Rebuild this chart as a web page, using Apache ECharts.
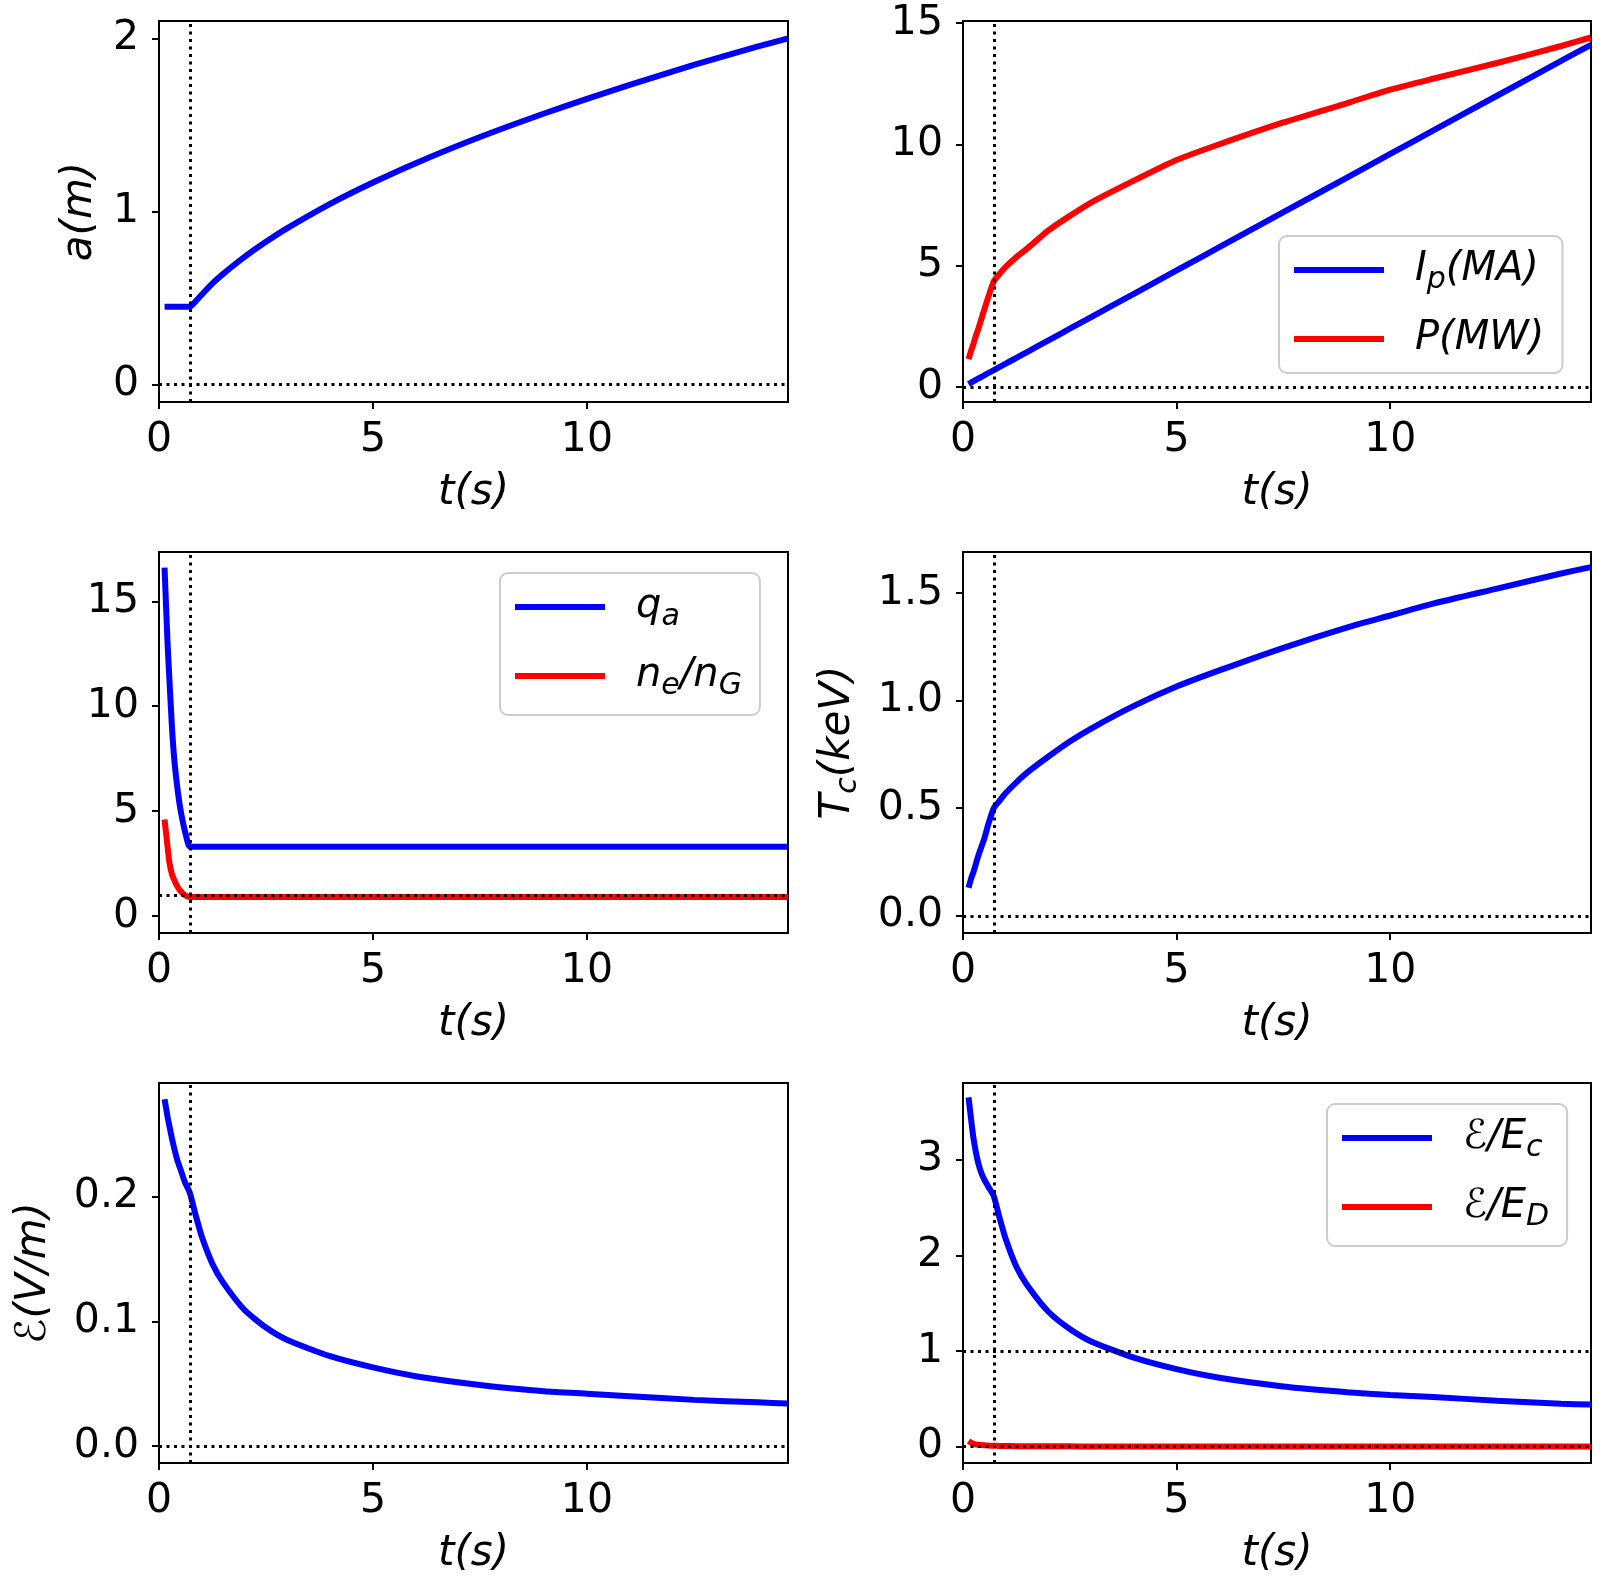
<!DOCTYPE html>
<html>
<head>
<meta charset="utf-8">
<script src="https://cdn.jsdelivr.net/npm/echarts@6/dist/echarts.min.js"></script>
<style>
html, body { margin: 0; padding: 0; background: #fff; }
#chart { width: 1600px; height: 1579px; }
</style>
</head>
<body>
<div id="chart"></div>
<script>
// time samples (s)
const t = [0.13, 0.2, 0.24, 0.3, 0.36, 0.43, 0.5, 0.6, 0.72, 0.85, 1, 1.25, 1.5, 2, 2.5, 3, 4, 5, 6, 7.5, 9, 10, 11, 12.5, 14, 14.7]
const tSwitch = 0.72

// series, one value per t
const minorRadius = [0.45, 0.45, 0.45, 0.45, 0.45, 0.45, 0.45, 0.45, 0.45, 0.48, 0.52, 0.585, 0.64, 0.738, 0.825, 0.904, 1.044, 1.167, 1.279, 1.43, 1.566, 1.65, 1.731, 1.846, 1.953, 2.0]
const plasmaCurrent = [0.12, 0.19, 0.23, 0.29, 0.35, 0.41, 0.48, 0.58, 0.69, 0.82, 0.96, 1.2, 1.44, 1.92, 2.4, 2.88, 3.84, 4.8, 5.76, 7.2, 8.64, 9.6, 10.56, 12.0, 13.44, 14.1]
const power = [1.15, 1.55, 1.75, 2.1, 2.4, 2.8, 3.2, 3.75, 4.35, 4.65, 4.95, 5.35, 5.7, 6.45, 7.05, 7.6, 8.5, 9.35, 10.0, 10.9, 11.7, 12.25, 12.7, 13.35, 14.05, 14.4]
const safetyFactor = [16.6, 13.0, 11.4, 9.1, 7.4, 6.1, 5.1, 4.1, 3.3, 3.3, 3.3, 3.3, 3.3, 3.3, 3.3, 3.3, 3.3, 3.3, 3.3, 3.3, 3.3, 3.3, 3.3, 3.3, 3.3, 3.3]
const greenwald = [4.6, 3.3, 2.6, 2.0, 1.7, 1.4, 1.2, 1.0, 0.9, 0.9, 0.9, 0.9, 0.9, 0.9, 0.9, 0.9, 0.9, 0.9, 0.9, 0.9, 0.9, 0.9, 0.9, 0.9, 0.9, 0.9]
const coreTemp = [0.13, 0.18, 0.2, 0.24, 0.28, 0.32, 0.36, 0.43, 0.5, 0.533, 0.57, 0.62, 0.665, 0.74, 0.81, 0.87, 0.975, 1.065, 1.14, 1.245, 1.34, 1.395, 1.45, 1.52, 1.59, 1.62]
const efield = [0.278, 0.264, 0.257, 0.247, 0.238, 0.229, 0.222, 0.212, 0.203, 0.186, 0.168, 0.146, 0.131, 0.109, 0.095, 0.085, 0.072, 0.063, 0.056, 0.049, 0.044, 0.042, 0.04, 0.037, 0.035, 0.034]
const eOverEc = [3.65, 3.38, 3.24, 3.08, 2.96, 2.86, 2.79, 2.71, 2.62, 2.4, 2.17, 1.88, 1.69, 1.41, 1.23, 1.1, 0.93, 0.81, 0.72, 0.63, 0.57, 0.54, 0.52, 0.48, 0.45, 0.44]
const eOverEd = [0.06, 0.04, 0.033, 0.025, 0.02, 0.017, 0.015, 0.012, 0.01, 0.008, 0.007, 0.006, 0.005, 0.004, 0.004, 0.003, 0.003, 0.003, 0.002, 0.002, 0.002, 0.002, 0.002, 0.002, 0.002, 0.002]

// axes: ranges and tick labels
const xTicks = [0, 5, 10]
const xRange = [0, 14.7]
const yRanges = [[-0.1, 2.1], [-0.62, 15.08], [-0.81, 17.35], [-0.08, 1.69], [-0.0136, 0.291], [-0.17, 3.8]]
const yTicks = [[0, 1, 2], [0, 5, 10, 15], [0, 5, 10, 15], [0, 0.5, 1.0, 1.5], [0, 0.1, 0.2], [0, 1, 2, 3]]
const yDecimals = [0, 0, 0, 1, 1, 0]
const yNames = ['a(m)', '', '', 'T{s|c}(keV)', 'ℰ(V/m)', '']
const yNameGaps = [58, 0, 0, 100, 104, 0]
const hLines = [[0], [0], [1], [0], [0], [0, 1]]

const legendText = {
  Ip: 'I{s|p}(MA)',
  P: 'P(MW)',
  qa: 'q{s|a}',
  ne: 'n{s|e}/n{s|G}',
  EEc: 'ℰ/E{s|c}',
  EED: 'ℰ/E{s|D}'
}

const BLUE = '#0000ff'
const RED = '#ff0000'
const FONT = 'DejaVu Sans'

const grids = [
  { left: 159, top: 21, width: 629, height: 381 },
  { left: 963, top: 21, width: 628, height: 381 },
  { left: 159, top: 552, width: 629, height: 381 },
  { left: 963, top: 552, width: 628, height: 381 },
  { left: 159, top: 1083, width: 629, height: 380 },
  { left: 963, top: 1083, width: 628, height: 380 }
]

const subRich = {
  s: { fontFamily: FONT, fontStyle: 'italic', fontSize: 30, padding: [20, 0, 0, 0], color: '#000' }
}

const chart = echarts.init(document.getElementById('chart'))

function curve(name, i, vals, color) {
  return {
    name: name,
    type: 'line',
    xAxisIndex: i,
    yAxisIndex: i,
    data: t.map((x, k) => [x, vals[k]]),
    symbol: 'none',
    showSymbol: false,
    smooth: 0.2,
    color: color,
    lineStyle: { color: color, width: 6 },
    z: 3
  }
}

function refLines(i) {
  let lines = [{ xAxis: tSwitch }]
  hLines[i].forEach(v => lines.push({ yAxis: v }))
  return {
    type: 'line',
    xAxisIndex: i,
    yAxisIndex: i,
    data: [[tSwitch, 0]],
    symbol: 'none',
    lineStyle: { width: 0 },
    z: 6,
    markLine: {
      silent: true,
      symbol: ['none', 'none'],
      label: { show: false },
      lineStyle: { color: '#000', type: [3, 4.5], width: 3, cap: 'butt' },
      z: 6,
      data: lines
    }
  }
}

function legendBox(names, left, top) {
  return {
    data: names,
    left: left,
    top: top,
    orient: 'vertical',
    icon: 'rect',
    itemWidth: 90,
    itemHeight: 6,
    itemGap: 24,
    padding: [14, 18, 14, 15],
    backgroundColor: 'rgba(255,255,255,0.85)',
    borderColor: '#cccccc',
    borderWidth: 2,
    borderRadius: 8,
    selectedMode: false,
    formatter: name => legendText[name],
    textStyle: {
      fontFamily: FONT,
      fontStyle: 'italic',
      fontSize: 40,
      color: '#000',
      padding: [0, 0, 0, 26],
      rich: subRich
    }
  }
}

const xAxes = grids.map((g, i) => ({
  type: 'value',
  gridIndex: i,
  min: xRange[0],
  max: xRange[1],
  name: 't(s)',
  nameLocation: 'middle',
  nameGap: 70,
  nameTextStyle: { fontFamily: FONT, fontStyle: 'italic', fontSize: 42, color: '#000' },
  axisLine: { show: true, onZero: false, lineStyle: { color: '#000', width: 2 } },
  axisTick: { show: true, length: 7, lineStyle: { color: '#000', width: 2 }, customValues: xTicks },
  axisLabel: { fontFamily: FONT, fontSize: 41, color: '#000', margin: 18, customValues: xTicks },
  splitLine: { show: false }
}))

const yAxes = grids.map((g, i) => ({
  type: 'value',
  gridIndex: i,
  min: yRanges[i][0],
  max: yRanges[i][1],
  name: yNames[i],
  nameLocation: 'middle',
  nameRotate: 90,
  nameGap: yNameGaps[i],
  nameTextStyle: { fontFamily: FONT, fontStyle: 'italic', fontSize: 42, color: '#000', rich: subRich },
  axisLine: { show: true, onZero: false, lineStyle: { color: '#000', width: 2 } },
  axisTick: { show: true, length: 7, lineStyle: { color: '#000', width: 2 }, customValues: yTicks[i] },
  axisLabel: {
    fontFamily: FONT, fontSize: 41, color: '#000', margin: 20,
    customValues: yTicks[i],
    formatter: v => Number(v).toFixed(yDecimals[i])
  },
  splitLine: { show: false }
}))

const option = {
  backgroundColor: '#fff',
  animation: false,
  grid: grids.map(g => Object.assign({ show: true, borderColor: '#000', borderWidth: 2, backgroundColor: 'transparent' }, g)),
  xAxis: xAxes,
  yAxis: yAxes,
  legend: [
    legendBox(['Ip', 'P'], 1279, 236),
    legendBox(['qa', 'ne'], 500, 573),
    legendBox(['EEc', 'EED'], 1327, 1104)
  ],
  series: [
    curve('a', 0, minorRadius, BLUE),
    curve('Ip', 1, plasmaCurrent, BLUE),
    curve('P', 1, power, RED),
    curve('qa', 2, safetyFactor, BLUE),
    curve('ne', 2, greenwald, RED),
    curve('Tc', 3, coreTemp, BLUE),
    curve('E', 4, efield, BLUE),
    curve('EEc', 5, eOverEc, BLUE),
    curve('EED', 5, eOverEd, RED),
    refLines(0), refLines(1), refLines(2), refLines(3), refLines(4), refLines(5)
  ]
}

chart.setOption(option)
</script>
</body>
</html>
